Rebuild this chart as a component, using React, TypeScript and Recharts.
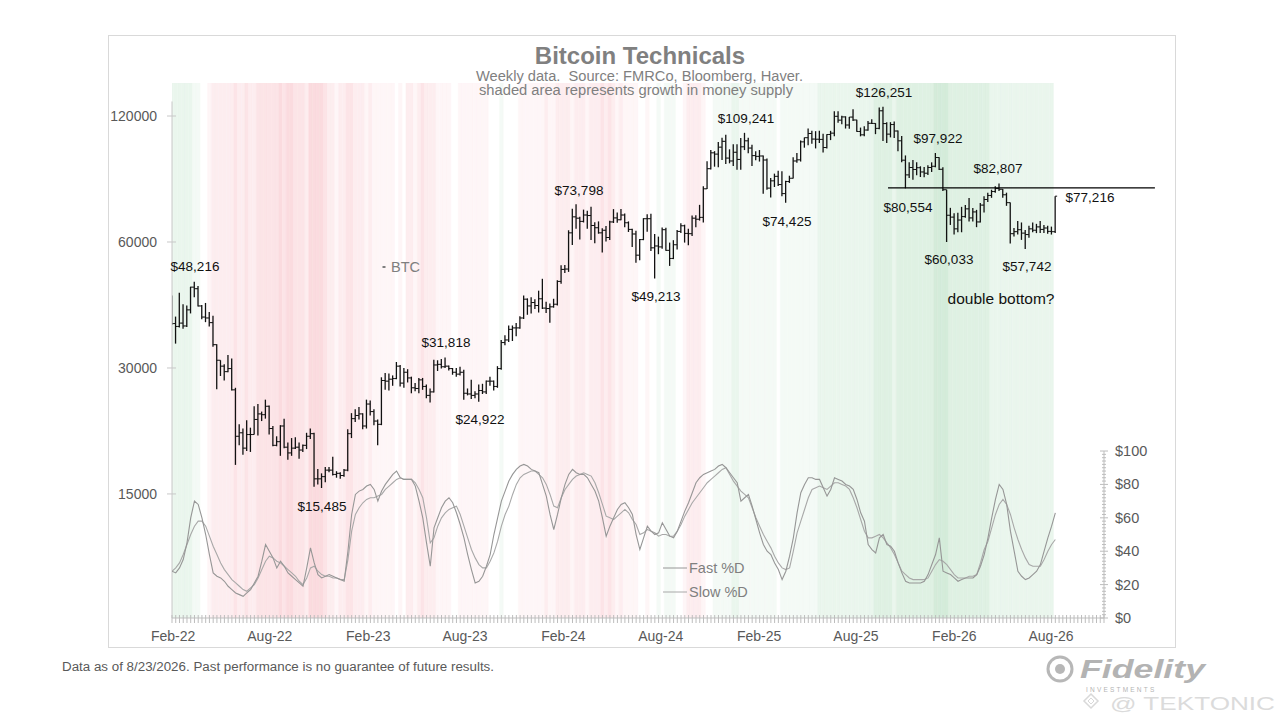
import React from "react";
import { ComposedChart, XAxis, YAxis, Bar, Line, ReferenceArea, ReferenceLine } from "recharts";

// ---------- DATA (weekly, prices in thousands of USD) ----------
const highK = [
  44.7, 39.8, 45.4, 42.6, 42.3, 46.9, 48.2, 47.1, 42.4, 42.9,
  40.8, 40.0, 34.2, 31.3, 30.6, 32.2, 31.6, 26.9, 22.0, 21.5,
  22.5, 21.6, 24.3, 24.6, 23.6, 25.2, 24.4, 21.8, 20.6, 21.9,
  22.7, 19.9, 20.4, 20.5, 19.9, 19.7, 21.0, 21.5, 21.0, 17.2,
  16.8, 17.4, 17.4, 18.4, 17.0, 16.9, 17.2, 21.4, 23.4, 23.9,
  24.2, 23.4, 25.2, 25.1, 23.9, 22.6, 28.5, 29.2, 29.1, 28.8,
  31.0, 30.5, 30.0, 29.8, 28.6, 27.6, 28.4, 28.4, 27.4, 26.8,
  31.4, 31.3, 31.5, 31.8, 30.4, 30.0, 30.0, 30.2, 29.7, 26.8,
  28.1, 26.4, 27.4, 27.5, 28.0, 28.6, 28.0, 30.3, 35.0, 35.9,
  37.9, 37.9, 38.4, 39.9, 44.7, 44.0, 44.3, 43.8, 45.9, 49.0,
  43.2, 42.8, 43.9, 48.6, 52.8, 52.9, 64.0, 72.0, 73.8, 68.9,
  71.7, 71.3, 72.8, 66.9, 67.2, 64.7, 65.5, 67.4, 71.9, 70.6,
  71.9, 70.2, 67.2, 64.5, 63.8, 61.0, 68.4, 69.9, 70.1, 62.7,
  61.8, 65.0, 64.9, 59.8, 60.6, 64.1, 66.5, 66.0, 64.5, 69.4,
  69.5, 73.6, 81.5, 93.5, 99.6, 98.9, 104.0, 106.5, 108.3, 99.9,
  102.7, 102.7, 106.3, 109.4, 106.5, 102.5, 98.8, 99.5, 96.5, 95.0,
  85.3, 87.4, 88.8, 88.5, 84.0, 86.4, 95.7, 97.9, 104.9, 106.6,
  112.0, 110.7, 110.4, 110.6, 108.9, 108.5, 110.6, 123.2, 123.2, 120.2,
  119.8, 119.3, 124.5, 117.6, 112.6, 113.4, 116.7, 117.9, 115.4, 125.7,
  126.2, 116.0, 116.0, 116.4, 110.8, 107.5, 96.6, 93.1, 94.2, 93.0,
  91.0, 90.7, 91.5, 93.0, 97.9, 95.6, 90.5, 80.0, 72.4, 70.3,
  70.5, 72.8, 73.5, 76.4, 72.3, 71.6, 74.4, 77.2, 78.7, 80.0,
  81.5, 82.8, 80.3, 78.7, 74.6, 64.8, 67.3, 66.8, 64.1, 65.6,
  66.8, 66.3, 67.3, 65.9, 65.6, 65.3, 77.2,
];

const lowK = [
  38.0, 34.3, 37.5, 37.2, 37.6, 40.5, 44.3, 42.1, 39.2, 38.6,
  37.7, 33.7, 26.7, 28.7, 28.0, 29.3, 26.5, 17.6, 19.6, 18.6,
  19.0, 18.9, 20.8, 20.7, 22.4, 22.7, 20.8, 19.5, 19.5, 18.5,
  19.3, 18.1, 18.5, 19.2, 18.2, 18.9, 19.2, 20.3, 15.6, 15.8,
  15.5, 16.0, 16.9, 16.6, 16.4, 16.3, 16.5, 17.0, 20.4, 22.3,
  22.6, 21.4, 21.5, 23.1, 21.9, 19.6, 21.9, 26.6, 26.5, 27.2,
  28.2, 27.1, 26.9, 27.7, 26.1, 26.4, 26.1, 26.6, 25.4, 24.8,
  26.2, 29.5, 29.9, 30.0, 29.6, 28.9, 28.6, 28.8, 25.2, 25.8,
  25.3, 25.4, 24.9, 26.0, 26.0, 27.2, 26.5, 26.9, 29.7, 34.0,
  34.6, 34.8, 35.7, 37.2, 39.3, 40.2, 40.5, 41.5, 40.7, 41.5,
  40.6, 38.5, 41.8, 42.3, 47.7, 50.6, 50.9, 59.0, 64.5, 60.8,
  66.8, 64.5, 60.7, 59.6, 62.8, 56.6, 60.2, 60.7, 66.6, 66.7,
  67.6, 65.1, 63.4, 58.4, 53.5, 54.3, 60.6, 63.5, 57.1, 49.1,
  56.1, 57.8, 57.2, 52.6, 54.6, 57.6, 63.0, 59.8, 58.9, 62.0,
  65.1, 67.5, 66.8, 80.3, 89.4, 90.8, 90.5, 94.2, 92.2, 92.5,
  91.2, 89.3, 89.3, 99.5, 97.8, 91.2, 94.1, 93.4, 78.2, 80.0,
  76.6, 81.2, 81.6, 77.2, 74.5, 83.0, 85.1, 92.8, 93.4, 100.8,
  102.1, 103.0, 100.4, 103.4, 98.2, 100.4, 105.1, 107.4, 115.7, 114.7,
  112.0, 111.9, 116.8, 110.0, 107.3, 107.3, 110.6, 114.8, 108.6, 111.6,
  104.6, 103.5, 106.7, 106.3, 98.9, 93.0, 80.6, 85.3, 84.5, 86.6,
  85.8, 85.7, 86.7, 88.2, 90.5, 89.2, 79.4, 60.0, 65.9, 62.5,
  63.3, 63.3, 68.6, 67.2, 67.2, 65.1, 66.8, 70.6, 74.8, 76.5,
  78.7, 79.4, 76.5, 73.2, 59.5, 61.8, 62.5, 60.7, 57.7, 61.4,
  63.3, 63.0, 63.0, 63.0, 62.8, 62.5, 63.0,
];

const openK = [
  42.2, 38.3, 37.7, 38.4, 37.8, 41.3, 46.8, 46.4, 42.2, 39.7,
  39.5, 38.5, 34.1, 31.3, 30.3, 29.4, 29.9, 26.6, 20.6, 21.0,
  19.3, 20.8, 20.8, 22.6, 23.3, 23.2, 24.3, 21.5, 19.6, 20.0,
  21.8, 19.4, 18.8, 19.3, 19.4, 19.1, 19.6, 20.6, 20.9, 16.3,
  16.3, 16.5, 17.1, 17.1, 16.7, 16.8, 16.6, 17.1, 20.9, 22.7,
  23.1, 23.3, 21.8, 24.6, 23.6, 22.4, 22.0, 28.0, 27.9, 28.2,
  28.3, 30.3, 27.6, 29.3, 28.4, 26.9, 26.8, 28.1, 27.1, 25.8,
  26.3, 30.5, 30.6, 30.2, 30.3, 29.9, 29.3, 29.0, 29.3, 26.1,
  26.0, 25.8, 26.0, 26.5, 26.3, 27.9, 27.9, 27.1, 29.9, 34.5,
  35.0, 37.1, 37.4, 37.4, 39.5, 43.8, 42.2, 43.0, 42.3, 43.9,
  41.7, 41.6, 42.0, 42.6, 48.3, 51.6, 51.7, 63.1, 68.9, 68.4,
  67.2, 69.6, 69.4, 65.7, 64.9, 63.1, 64.0, 61.5, 67.0, 68.5,
  67.8, 69.6, 66.7, 64.3, 62.7, 55.8, 60.8, 68.2, 68.2, 58.1,
  58.7, 58.4, 64.2, 57.3, 54.8, 59.1, 63.6, 65.6, 62.9, 62.8,
  68.4, 68.0, 68.7, 80.4, 89.8, 98.0, 97.3, 101.1, 104.4, 95.2,
  93.7, 98.3, 94.5, 101.3, 104.7, 100.6, 96.5, 96.1, 96.3, 94.2,
  80.7, 84.0, 86.1, 82.3, 78.3, 83.7, 85.2, 93.7, 94.3, 104.1,
  106.5, 109.0, 105.7, 105.6, 105.5, 100.9, 108.4, 109.2, 119.8, 117.3,
  119.4, 114.2, 119.3, 117.4, 110.2, 108.2, 111.1, 115.3, 115.2, 112.1,
  123.5, 115.1, 108.6, 114.5, 110.5, 104.7, 94.1, 86.8, 90.4, 89.4,
  90.3, 88.2, 87.6, 90.4, 91.0, 95.5, 89.5, 80.0, 69.5, 68.8,
  64.5, 67.7, 69.0, 72.0, 68.5, 70.8, 67.0, 73.5, 75.8, 77.5,
  79.2, 80.5, 80.2, 77.8, 74.5, 62.8, 63.5, 64.2, 63.0, 62.5,
  64.5, 64.0, 65.2, 64.3, 64.8, 63.6, 63.5,
];

const closeK = [
  38.3, 37.7, 38.4, 37.8, 41.3, 46.8, 46.4, 42.2, 39.7, 39.5,
  38.5, 34.1, 31.3, 30.3, 29.4, 29.9, 26.6, 20.6, 21.0, 19.3,
  20.8, 20.8, 22.6, 23.3, 23.2, 24.3, 21.5, 19.6, 20.0, 21.8,
  19.4, 18.8, 19.3, 19.4, 19.1, 19.6, 20.6, 20.9, 16.3, 16.3,
  16.5, 17.1, 17.1, 16.7, 16.8, 16.6, 17.1, 20.9, 22.7, 23.1,
  23.3, 21.8, 24.6, 23.6, 22.4, 22.0, 28.0, 27.9, 28.2, 28.3,
  30.3, 27.6, 29.3, 28.4, 26.9, 26.8, 28.1, 27.1, 25.8, 26.3,
  30.5, 30.6, 30.2, 30.3, 29.9, 29.3, 29.0, 29.3, 26.1, 26.0,
  25.8, 26.0, 26.5, 26.3, 27.9, 27.9, 27.1, 29.9, 34.5, 35.0,
  37.1, 37.4, 37.4, 39.5, 43.8, 42.2, 43.0, 42.3, 43.9, 41.7,
  41.6, 42.0, 42.6, 48.3, 51.6, 51.7, 63.1, 68.9, 68.4, 67.2,
  69.6, 69.4, 65.7, 64.9, 63.1, 64.0, 61.5, 67.0, 68.5, 67.8,
  69.6, 66.7, 64.3, 62.7, 55.8, 60.8, 68.2, 68.2, 58.1, 58.7,
  58.4, 64.2, 57.3, 54.8, 59.1, 63.6, 65.6, 62.9, 62.8, 68.4,
  68.0, 68.7, 80.4, 89.8, 98.0, 97.3, 101.1, 104.4, 95.2, 93.7,
  98.3, 94.5, 101.3, 104.7, 100.6, 96.5, 96.1, 96.3, 94.2, 80.7,
  84.0, 86.1, 82.3, 78.3, 83.7, 85.2, 93.7, 94.3, 104.1, 106.5,
  109.0, 105.7, 105.6, 105.5, 100.9, 108.4, 109.2, 119.8, 117.3, 119.4,
  114.2, 119.3, 117.4, 110.2, 108.2, 111.1, 115.3, 115.2, 112.1, 123.5,
  115.1, 108.6, 114.5, 110.5, 104.7, 94.1, 86.8, 90.4, 89.4, 90.3,
  88.2, 87.6, 90.4, 91.0, 95.5, 89.5, 80.0, 69.5, 68.8, 64.5,
  67.7, 69.0, 72.0, 68.5, 70.8, 67.0, 73.5, 75.8, 77.5, 79.2,
  80.5, 80.2, 77.8, 74.5, 62.8, 63.5, 64.2, 63.0, 62.5, 64.5,
  64.0, 65.2, 64.3, 64.8, 63.6, 63.5, 77.2,
];

const fastD = [
  28, 27, 30, 35, 45, 60, 70, 68, 60, 50,
  38, 27, 25, 24, 22, 19, 17, 15, 14, 13,
  15, 17, 21, 25, 34, 44, 40, 36, 30, 34,
  31, 27, 25, 23, 21, 19, 30, 42, 33, 26,
  24, 25, 26, 25, 24, 23, 22, 40, 62, 74,
  76, 77, 79, 80, 77, 70, 76, 80, 83, 86,
  88, 84, 83, 83, 83, 79, 70, 60, 45, 31,
  54, 60, 66, 70, 72, 69, 63, 56, 48, 38,
  29, 21, 22, 25, 31, 38, 50, 60, 70, 76,
  82, 86, 89, 91, 92, 91, 89, 88, 87, 80,
  73, 62, 53, 62, 72, 80, 86, 89, 87, 86,
  86, 84, 80, 76, 70, 60, 49, 55, 60, 65,
  68, 69, 66, 62, 50, 41, 48, 55, 52, 50,
  51, 57, 53, 49, 48, 52, 58, 64, 69, 75,
  81, 84, 86, 87, 88, 89, 91, 92, 90, 87,
  84, 81, 70, 72, 74, 67, 59, 51, 44, 40,
  38, 33, 29, 23, 28, 37, 48, 63, 75, 80,
  84, 84, 83, 83, 78, 73, 77, 84, 83, 82,
  80, 79, 77, 71, 63, 58, 44, 41, 39, 48,
  50, 44, 43, 40, 33, 27, 22, 21, 21, 21,
  21, 22, 26, 32, 38, 48, 28, 27, 26, 24,
  22, 23, 24, 24, 24, 26, 31, 38, 48, 60,
  71, 80, 77, 68, 52, 40, 28, 25, 23, 24,
  26, 28, 32, 40, 48, 55, 63,
];

const slowD = [
  28, 30, 33, 38, 44, 50, 55, 58, 58, 55,
  49, 43, 38, 33, 29, 26, 23, 21, 19, 17,
  16, 18, 20, 24, 29, 34, 37, 36, 34, 33,
  31, 29, 27, 25, 22, 20, 24, 30, 31, 28,
  26, 25, 25, 24, 24, 23, 23, 35, 52, 62,
  66, 69, 71, 72, 72, 73, 74, 77, 79, 81,
  83, 84, 83, 83, 83, 81, 77, 72, 60, 45,
  48, 55, 60, 63, 65, 66, 67, 62, 55, 48,
  41, 36, 32, 30, 30, 34, 39, 46, 55, 62,
  67, 74, 80, 84, 86, 87, 88, 88, 86, 84,
  80, 74, 67, 66, 72, 77, 80, 83, 85, 86,
  87, 86, 85, 81, 75, 68, 61, 60, 59, 61,
  63, 65, 63, 59, 56, 50, 51, 53, 52, 51,
  49, 50, 50, 49, 49, 52, 56, 61, 65, 69,
  72, 75, 78, 81, 83, 85, 87, 89, 90, 86,
  82, 79, 76, 74, 72, 66, 60, 55, 50, 46,
  42, 37, 33, 30, 29, 30, 40, 51, 58, 65,
  72, 77, 78, 79, 78, 77, 79, 81, 81, 80,
  79, 77, 72, 66, 59, 52, 48, 48, 49, 50,
  48, 45, 42, 38, 33, 28, 26, 24, 23, 23,
  23, 23, 24, 28, 32, 35, 34, 32, 29, 26,
  24, 24, 24, 25, 25, 26, 33, 41, 46, 54,
  62, 68, 71, 68, 62, 54, 47, 41, 36, 32,
  31, 31, 31, 35, 40, 44, 47,
];

// money-supply growth signal per week: negative = contraction (red), positive = growth (green)
const moneyGrowth = [
  2, 2, 2, 2, 2, 2, 1, 1, 0, 0,
  -1, -2, -2, -2, -2, -2, -2, -3, -2, -2,
  -3, -2, -2, -3, -3, -3, -3, -3, -3, -4,
  -3, -4, -4, -3, -3, -3, -2, -4, -4, -4,
  -4, -3, -2, -2, -1, -2, -2, -3, -3, -2,
  -2, -2, -1, -2, -1, -1, -1, -1, -1, -1,
  0, -1, 0, -2, -2, -1, -2, -3, -2, -2,
  -2, -1, -1, -1, -1, 0, 0, -1, -1, -1,
  -1, -1, -1, -1, -1, 0, 0, 0, 1, 0,
  0, 0, 0, -1, -1, -1, -1, -1, -1, -1,
  -2, -1, -1, -2, -2, -2, -2, -1, -2, -2,
  -2, -1, -2, -2, -2, -3, -2, -3, -2, -1,
  -2, -1, -1, -1, -1, 0, 0, -1, 0, 0,
  1, 0, 1, 1, 1, 0, 0, -1, -2, -2,
  -2, -2, -1, 0, 0, 1, 1, 1, 1, 1,
  2, 2, 1, 1, 1, 1, 1, 1, 1, 1,
  1, 1, 0, 1, 1, 1, 1, 1, 1, 1,
  1, 1, 1, 2, 2, 2, 2, 2, 2, 2,
  2, 2, 2, 2, 2, 2, 2, 2, 3, 3,
  3, 3, 3, 2, 3, 3, 3, 3, 3, 3,
  3, 3, 3, 3, 4, 4, 4, 4, 3, 3,
  3, 3, 3, 3, 3, 3, 3, 3, 3, 2,
  2, 2, 2, 2, 2, 2, 2, 2, 2, 2,
  2, 2, 2, 2, 2, 2, 0,
];

const xTickLabels = ["Feb-22", "Aug-22", "Feb-23", "Aug-23", "Feb-24", "Aug-24", "Feb-25", "Aug-25", "Feb-26", "Aug-26"];
const priceTicks = [15000, 30000, 60000, 120000];

const annotations = [
  { text: "$48,216", x: 195, y: 271 },
  { text: "$15,485", x: 322, y: 511 },
  { text: "$31,818", x: 446, y: 347 },
  { text: "$24,922", x: 480, y: 424 },
  { text: "$73,798", x: 579, y: 195 },
  { text: "$49,213", x: 656, y: 301 },
  { text: "$109,241", x: 746, y: 123 },
  { text: "$74,425", x: 787, y: 226 },
  { text: "$126,251", x: 884, y: 97 },
  { text: "$97,922", x: 938, y: 143 },
  { text: "$80,554", x: 908, y: 212 },
  { text: "$82,807", x: 998, y: 173 },
  { text: "$60,033", x: 949, y: 264 },
  { text: "$57,742", x: 1027, y: 271 },
  { text: "$77,216", x: 1090, y: 202 },
];

// ---------- derived tables ----------
const PRICE_DOMAIN: [number, number] = [7580, 143900];
const OSC_DOMAIN: [number, number] = [0, 320.4];
const X_MAX = 249;
const SUPPORT_LEVEL = 80800;

const data = highK.map((h, i) => ({
  i,
  ohlc: [lowK[i] * 1000, h * 1000],
  open: openK[i] * 1000,
  high: h * 1000,
  low: lowK[i] * 1000,
  close: closeK[i] * 1000,
  fast: fastD[i],
  slow: slowD[i],
}));

const WEEK_MS = 7 * 86400000;
const AXIS_BASE = Date.UTC(2022, 0, 30);
const labelTicks = xTickLabels.map((lab) => {
  const month = lab.startsWith("Feb") ? 1 : 7;
  const year = 2000 + parseInt(lab.slice(4), 10);
  return { pos: (Date.UTC(year, month, 1) - AXIS_BASE) / WEEK_MS + 0.001, lab };
});
const labelByPos = new Map(labelTicks.map((t) => [t.pos, t.lab]));
const minorTicks = Array.from({ length: X_MAX + 1 }, (_, k) => k);
const allXTicks = Array.from(new Set([...minorTicks, ...labelTicks.map((t) => t.pos)])).sort((a, b) => a - b);
const oscTicks = Array.from({ length: 51 }, (_, k) => k * 2);

const mix = (a: number[], t: number) => {
  const r = Math.round(255 + (a[0] - 255) * t);
  const g = Math.round(255 + (a[1] - 255) * t);
  const b = Math.round(255 + (a[2] - 255) * t);
  return `rgb(${r},${g},${b})`;
};
const RED_FULL = [251, 219, 223];
const GREEN_FULL = [212, 236, 218];
const shadeColor = (v: number) => (v < 0 ? mix(RED_FULL, -v / 4) : mix(GREEN_FULL, v / 4));

const AXIS_TEXT = "#595959";
const FONT = "'Liberation Sans', Arial, sans-serif";

// ---------- custom renderers ----------
const OhlcShape = (props: any) => {
  const { x, y, width, height, payload } = props;
  if (x == null || y == null || !payload) return null;
  const cx = x + width / 2;
  const top = Math.min(y, y + height);
  const h = Math.abs(height);
  const lh = Math.log(payload.high);
  const ll = Math.log(payload.low);
  const span = lh - ll || 1;
  const yO = top + (h * (lh - Math.log(payload.open))) / span;
  const yC = top + (h * (lh - Math.log(payload.close))) / span;
  return (
    <g>
      <line x1={cx} x2={cx} y1={top} y2={top + h} stroke="#111" strokeWidth={1.3} />
      <line x1={cx - 2} x2={cx} y1={yO} y2={yO} stroke="#111" strokeWidth={1} />
      <line x1={cx} x2={cx + 2} y1={yC} y2={yC} stroke="#111" strokeWidth={1} />
    </g>
  );
};

const XTick = (props: any) => {
  const { x, y, payload } = props;
  const lab = labelByPos.get(payload.value);
  if (lab) {
    return (
      <text x={x} y={y + 23} textAnchor="middle" fontSize={14} fill={AXIS_TEXT} fontFamily={FONT}>
        {lab}
      </text>
    );
  }
  return <line x1={x} x2={x} y1={y - 3} y2={y + 5} stroke="#bdbdbd" strokeWidth={1} />;
};

const PriceTick = (props: any) => {
  const { x, y, payload } = props;
  return (
    <g>
      <line x1={x - 5} x2={x + 4} y1={y} y2={y} stroke="#c8c8c8" />
      <text x={x - 15} y={y + 5} textAnchor="end" fontSize={14} fill={AXIS_TEXT} fontFamily={FONT}>
        {payload.value}
      </text>
    </g>
  );
};

const OscTick = (props: any) => {
  const { x, y, payload } = props;
  const v = payload.value;
  const major = v % 20 === 0;
  return (
    <g>
      <line x1={x - (major ? 4 : 2)} x2={x + (major ? 4 : 2)} y1={y} y2={y} stroke="#bdbdbd" />
      {major && (
        <text x={x + 11} y={y + 5} textAnchor="start" fontSize={14.5} fill={AXIS_TEXT} fontFamily={FONT}>
          {"$" + v}
        </text>
      )}
    </g>
  );
};

export default function App() {
  return (
    <div style={{ position: "absolute", left: 0, top: 0, width: 1280, height: 720, background: "#fff", overflow: "hidden" }}>
      <ComposedChart
        width={1280}
        height={720}
        data={data}
        margin={{ top: 83, right: 106, bottom: 72, left: 100 }}
      >
        <XAxis
          dataKey="i"
          type="number"
          domain={[0, X_MAX]}
          ticks={allXTicks}
          interval={0}
          tick={<XTick />}
          tickLine={false}
          tickSize={0}
          tickMargin={0}
          axisLine={{ stroke: "#bfbfbf" }}
          height={30}
          allowDataOverflow
        />
        <YAxis
          yAxisId="price"
          type="number"
          scale="log"
          domain={PRICE_DOMAIN}
          ticks={priceTicks}
          interval={0}
          tick={<PriceTick />}
          tickLine={false}
          tickSize={0}
          tickMargin={0}
          axisLine={false}
          width={72}
          allowDataOverflow
        />
        <YAxis
          yAxisId="osc"
          orientation="right"
          type="number"
          domain={OSC_DOMAIN}
          ticks={oscTicks}
          interval={0}
          tick={<OscTick />}
          tickLine={false}
          tickSize={0}
          tickMargin={0}
          axisLine={false}
          width={70}
          allowDataOverflow
        />
        {moneyGrowth.map((v, i) =>
          v === 0 ? null : (
            <ReferenceArea
              key={"m" + i}
              yAxisId="price"
              x1={Math.max(0, i - 0.5)}
              x2={i + 0.5}
              y1={PRICE_DOMAIN[0]}
              y2={PRICE_DOMAIN[1]}
              fill={shadeColor(v)}
              fillOpacity={1}
              stroke={shadeColor(v)}
              strokeWidth={0.4}
              ifOverflow="hidden"
            />
          )
        )}
        <ReferenceLine
          yAxisId="price"
          segment={[{ x: 0, y: PRICE_DOMAIN[0] }, { x: 0, y: 130000 }]}
          stroke="#c8c8c8"
          ifOverflow="visible"
        />
        <ReferenceLine
          yAxisId="osc"
          segment={[{ x: X_MAX, y: 0 }, { x: X_MAX, y: 100 }]}
          stroke="#bdbdbd"
          ifOverflow="visible"
        />
        <Line yAxisId="osc" type="linear" dataKey="slow" stroke="#a8a8a8" strokeWidth={1.1} dot={false} isAnimationActive={false} />
        <Line yAxisId="osc" type="linear" dataKey="fast" stroke="#969696" strokeWidth={1.1} dot={false} isAnimationActive={false} />
        <Bar yAxisId="price" dataKey="ohlc" barSize={4} shape={(p: any) => <OhlcShape {...p} />} isAnimationActive={false} />
        <ReferenceLine
          yAxisId="price"
          segment={[{ x: 191.3, y: SUPPORT_LEVEL }, { x: 262.6, y: SUPPORT_LEVEL }]}
          stroke="#000"
          strokeWidth={1.4}
          ifOverflow="visible"
        />
      </ComposedChart>

      <svg width={1280} height={720} style={{ position: "absolute", left: 0, top: 0, pointerEvents: "none" }} fontFamily={FONT}>
        <rect x={108.5} y={35.5} width={1067} height={612} fill="none" stroke="#d9d9d9" />
        <text x={640} y={64} textAnchor="middle" fontSize={24} fontWeight="bold" fill="#808080">
          Bitcoin Technicals
        </text>
        <text x={639.5} y={81} textAnchor="middle" fontSize={14} fill="#7f7f7f" textLength={327} lengthAdjust="spacingAndGlyphs">
          {"Weekly data.\u00a0 Source: FMRCo, Bloomberg, Haver."}
        </text>
        <text x={636} y={95} textAnchor="middle" fontSize={14} fill="#7f7f7f" textLength={314} lengthAdjust="spacingAndGlyphs">
          shaded area represents growth in money supply
        </text>

        {annotations.map((a) => (
          <text key={a.text} x={a.x} y={a.y} textAnchor="middle" fontSize={13.5} fill="#111">
            {a.text}
          </text>
        ))}
        <text x={1001} y={304} textAnchor="middle" fontSize={15.5} fill="#111">
          double bottom?
        </text>

        <rect x={382.5} y={266} width={3} height={2} fill="#7f7f7f" />
        <text x={391} y={272} fontSize={14.5} fill="#7f7f7f">BTC</text>

        <line x1={663} x2={687} y1={568} y2={568} stroke="#969696" />
        <text x={689} y={573} fontSize={14.5} fill="#7f7f7f">Fast %D</text>
        <line x1={663} x2={687} y1={592} y2={592} stroke="#a8a8a8" />
        <text x={689} y={597} fontSize={14.5} fill="#7f7f7f">Slow %D</text>

        <text x={62} y={671} fontSize={12} fill="#595959" textLength={432} lengthAdjust="spacingAndGlyphs">
          Data as of 8/23/2026. Past performance is no guarantee of future results.
        </text>

        <g opacity={0.75}>
          <circle cx={1060} cy={669} r={12} fill="none" stroke="#a0a0a0" strokeWidth={3} />
          <circle cx={1060} cy={669} r={5} fill="#a0a0a0" />
          <text x={1080} y={678} fontSize={26} fontWeight="bold" fontStyle="italic" fill="#9a9a9a" textLength={125} lengthAdjust="spacingAndGlyphs">
            Fidelity
          </text>
          <text x={1086} y={692} fontSize={6.5} fill="#9a9a9a" letterSpacing={2.2}>INVESTMENTS</text>
        </g>
        <g opacity={0.6}>
          <polygon points="1091,694 1098,701 1091,708 1084,701" fill="none" stroke="#c0c0c0" strokeWidth={1.5} />
          <polygon points="1091,698 1094,701 1091,704 1088,701" fill="none" stroke="#c0c0c0" strokeWidth={1} />
          <text x={1110} y={710} fontSize={18} fill="#c4c4c4" textLength={165} lengthAdjust="spacingAndGlyphs">
            @ TEKTONIC
          </text>
        </g>
      </svg>
    </div>
  );
}
